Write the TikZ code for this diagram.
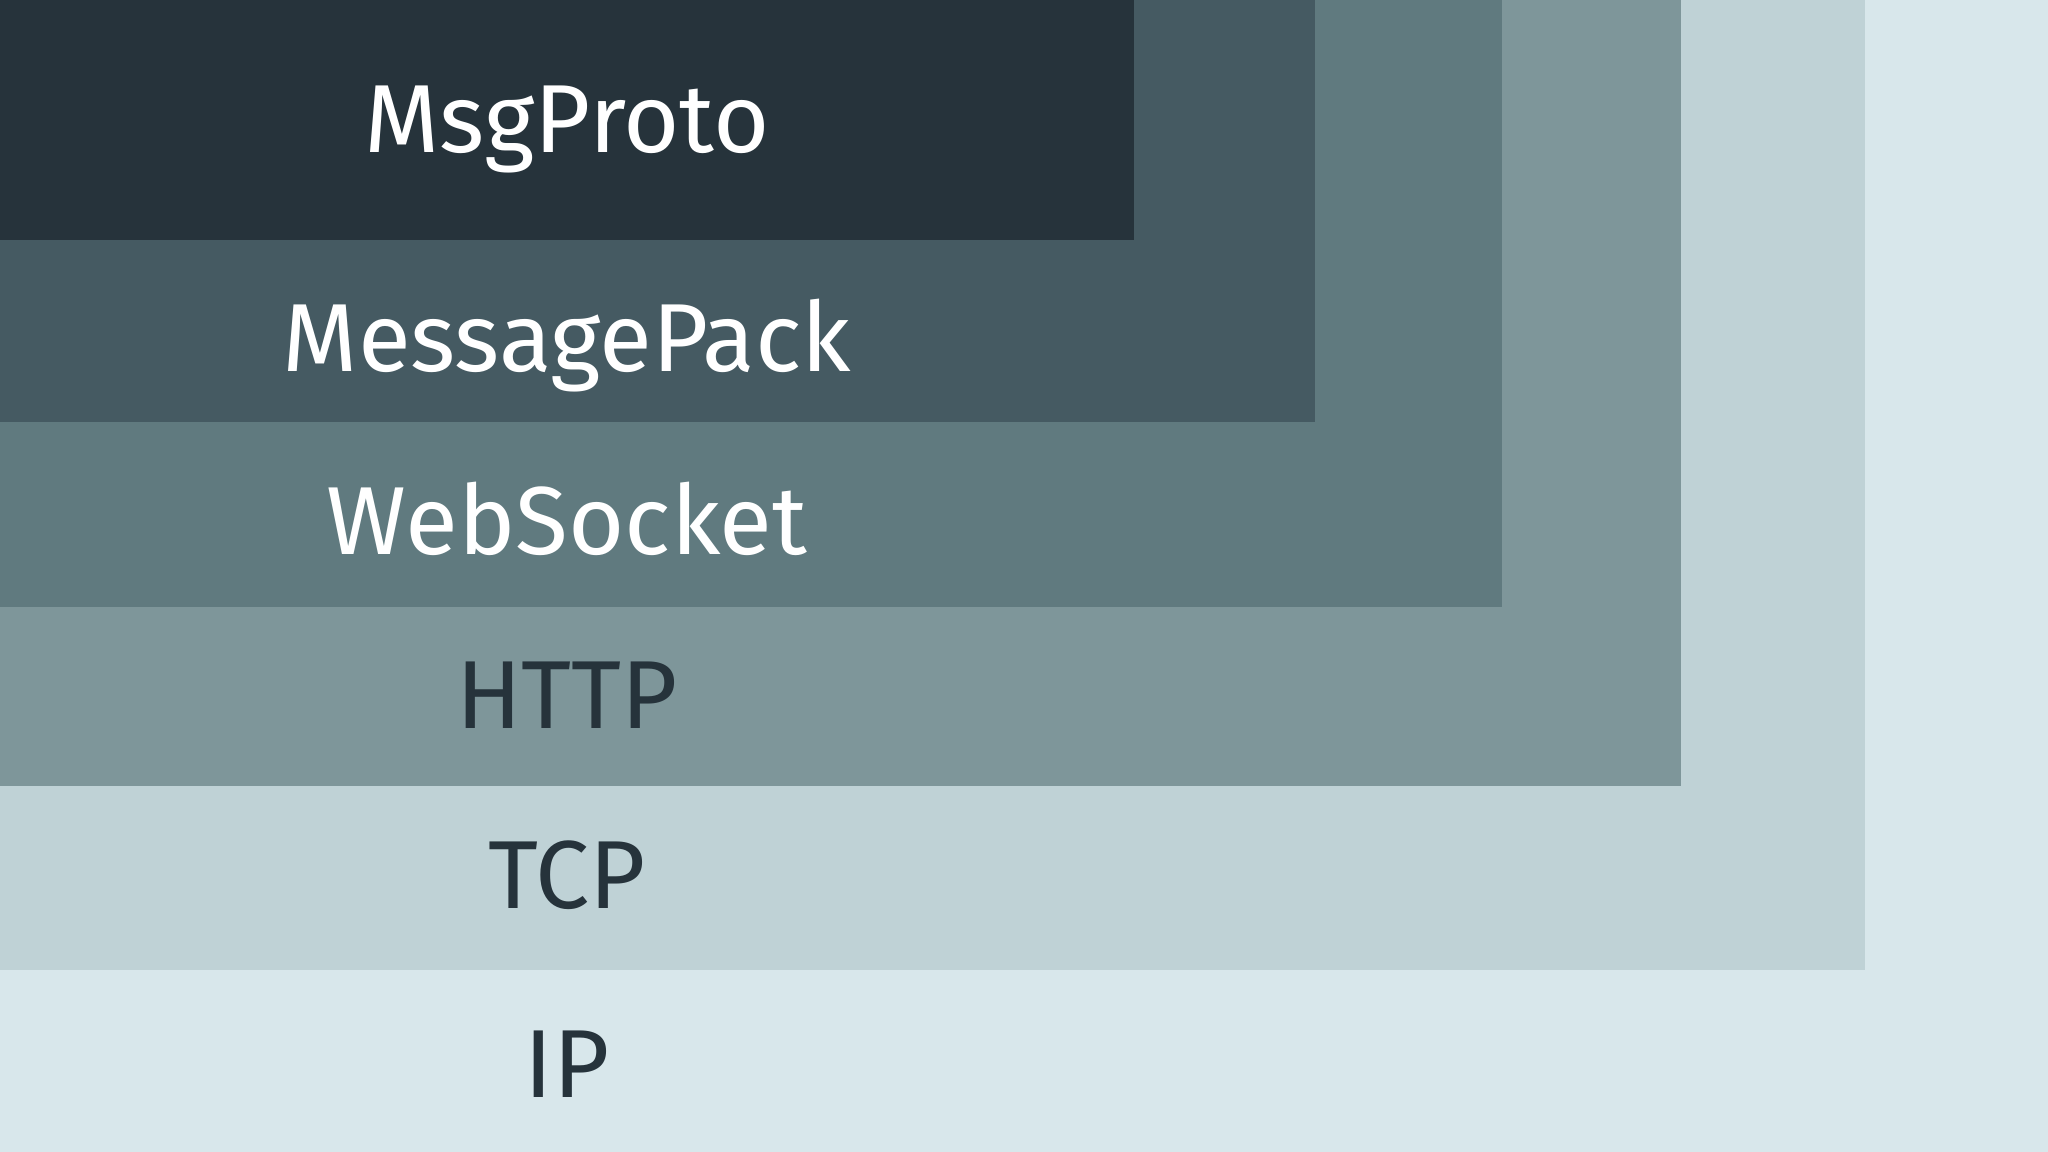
\documentclass[tikz,border=0pt]{standalone}
\usepackage{fontspec}
\setmainfont{Fira Sans}
\definecolor{ipcol}{HTML}{D8E7EB}
\definecolor{tcpcol}{HTML}{BFD2D6}
\definecolor{httpcol}{HTML}{7E969A}
\definecolor{wscol}{HTML}{607A7F}
\definecolor{mpcol}{HTML}{455A62}
\definecolor{protocol}{HTML}{26333B}
\begin{document}
\begin{tikzpicture}
[ light/.style={font=\fontsize{27.5}{32}\selectfont, text=white}
, dark/.style={font=\fontsize{27.5}{32}\selectfont, text=protocol}
]
\useasboundingbox (0,0) rectangle (20.48,-11.52);
% Layers, outermost first:
\fill [ipcol]    (0,0) rectangle (20.48,-11.52);
\fill [tcpcol]   (0,0) rectangle (18.65,-9.70);
\fill [httpcol]  (0,0) rectangle (16.81,-7.86);
\fill [wscol]    (0,0) rectangle (15.02,-6.07);
\fill [mpcol]    (0,0) rectangle (13.15,-4.22);
\fill [protocol] (0,0) rectangle (11.34,-2.40);
% Labels:
\node (msgproto) [light] at (5.67,-1.29)  {MsgProto};
\node (msgpack)  [light] at (5.67,-3.46)  {MessagePack};
\node (ws)       [light] at (5.67,-5.19)  {WebSocket};
\node (http)     [dark]  at (5.67,-6.95)  {HTTP};
\node (tcp)      [dark]  at (5.67,-8.75)  {TCP};
\node (ip)       [dark]  at (5.67,-10.64) {IP};
\end{tikzpicture}
\end{document}
